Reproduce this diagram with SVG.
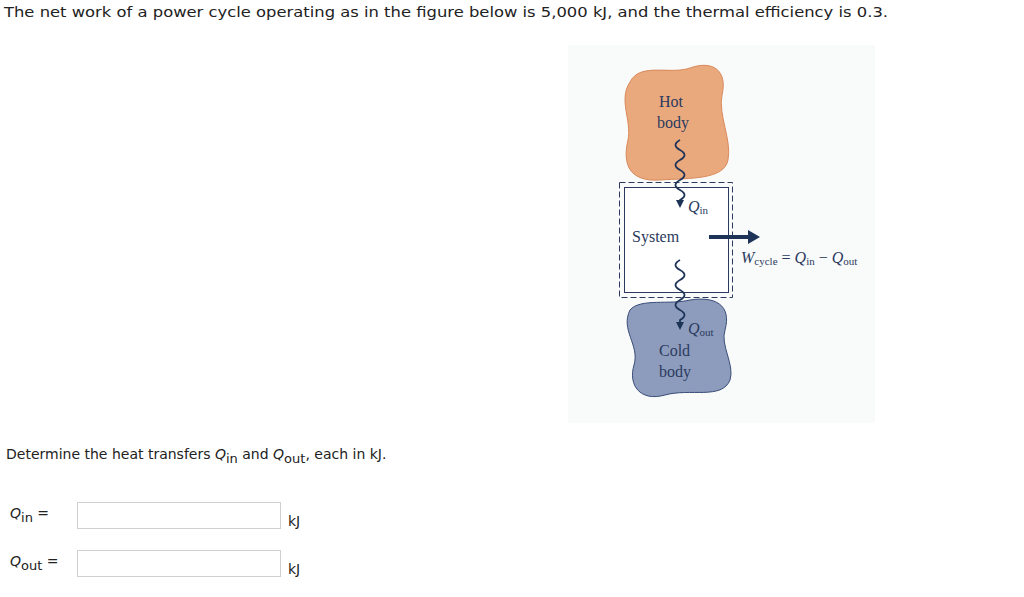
<svg xmlns="http://www.w3.org/2000/svg" width="1024" height="597" viewBox="0 0 1024 597">
<style>
.q{font-family:"DejaVu Sans",Verdana,sans-serif;font-size:14px;fill:#222}
.t{font-family:"Liberation Serif","Times New Roman",serif;font-size:16px;fill:#2b3a5e}
.w{fill:none;stroke:#1e3358;stroke-width:1.8}
.box{fill:#fff;stroke:#d0d0d0}
</style>
<defs><marker id="ah" markerWidth="8" markerHeight="8" refX="4" refY="4" orient="auto" markerUnits="userSpaceOnUse"><path d="M0,0 L8,4 L0,8z" fill="#1e3358"/></marker></defs>
<rect width="1024" height="597" fill="#fff"/>
<text class="q" x="4" y="17" textLength="884" lengthAdjust="spacingAndGlyphs">The net work of a power cycle operating as in the figure below is 5,000 kJ, and the thermal efficiency is 0.3.</text>
<rect x="568" y="45" width="307" height="378" fill="#f9fafa"/>
<g id="hot"><path d="M630,82 C640,62 670,75 690,68 C712,60 728,70 722,95 C718,115 732,140 728,160 C724,180 690,178 660,180 C630,182 622,165 628,140 C632,120 618,100 630,82Z" fill="#e9a97d" stroke="#d9895a"/>
<text class="t" x="659" y="107">Hot</text><text class="t" x="657" y="128">body</text></g>
<g id="cold"><path d="M630,310 C640,298 670,305 690,300 C715,296 732,305 725,330 C720,345 735,365 730,380 C722,400 690,388 665,395 C640,402 628,385 634,365 C640,345 620,330 630,310Z" fill="#8d9cbd" stroke="#3a4d78"/>
<text class="t" x="659" y="356">Cold</text><text class="t" x="659" y="377">body</text></g>
<g id="system"><rect x="619.5" y="182.5" width="113" height="115" fill="none" stroke="#2b3a5e" stroke-dasharray="6,3"/>
<rect x="624.5" y="187.5" width="104" height="105" fill="#fff" stroke="#2b3a5e"/>
<text class="t" x="632" y="242">System</text></g>
<g id="connectors">
<path class="w" d="M680,140 q-9,5 0,10 q9,5 0,10 q-9,5 0,10 q9,5 0,10 q-9,5 0,10 q9,5 0,10 v4" marker-end="url(#ah)"/>
<path class="w" d="M680,260 q-9,5 0,10 q9,5 0,10 q-9,5 0,10 q9,5 0,10 q-9,5 0,10 q9,5 0,10 v6" marker-end="url(#ah)"/>
<path d="M709,237 H750" stroke="#1e3358" stroke-width="4"/><path d="M748,230 L760,237 L748,244Z" fill="#1e3358"/>
</g>
<text class="t" x="688" y="212" font-style="italic">Q<tspan font-style="normal" font-size="11" dy="2">in</tspan></text>
<text class="t" x="688" y="334" font-style="italic">Q<tspan font-style="normal" font-size="11" dy="2">out</tspan></text>
<text class="t" x="741" y="263" font-size="15"><tspan font-style="italic">W</tspan><tspan font-size="11" dy="2">cycle</tspan><tspan dy="-2"> = </tspan><tspan font-style="italic">Q</tspan><tspan font-size="11" dy="2">in</tspan><tspan dy="-2"> − </tspan><tspan font-style="italic">Q</tspan><tspan font-size="11" dy="2">out</tspan></text>
<text class="q" x="6" y="459" font-size="16">Determine the heat transfers <tspan font-style="italic">Q</tspan><tspan font-size="13" dy="4">in</tspan><tspan dy="-4"> and </tspan><tspan font-style="italic">Q</tspan><tspan font-size="13" dy="4">out</tspan><tspan dy="-4">, each in kJ.</tspan></text>
<text class="q" x="10" y="518" font-size="15"><tspan font-style="italic">Q</tspan><tspan font-size="13" dy="4">in</tspan><tspan dy="-4"> =</tspan></text>
<text class="q" x="10" y="566" font-size="15"><tspan font-style="italic">Q</tspan><tspan font-size="13" dy="4">out</tspan><tspan dy="-4"> =</tspan></text>
<rect class="box" x="77.5" y="502.5" width="203" height="26"/>
<rect class="box" x="77.5" y="550.5" width="203" height="26"/>
<text class="q" x="288" y="526">kJ</text>
<text class="q" x="288" y="574">kJ</text>
</svg>
